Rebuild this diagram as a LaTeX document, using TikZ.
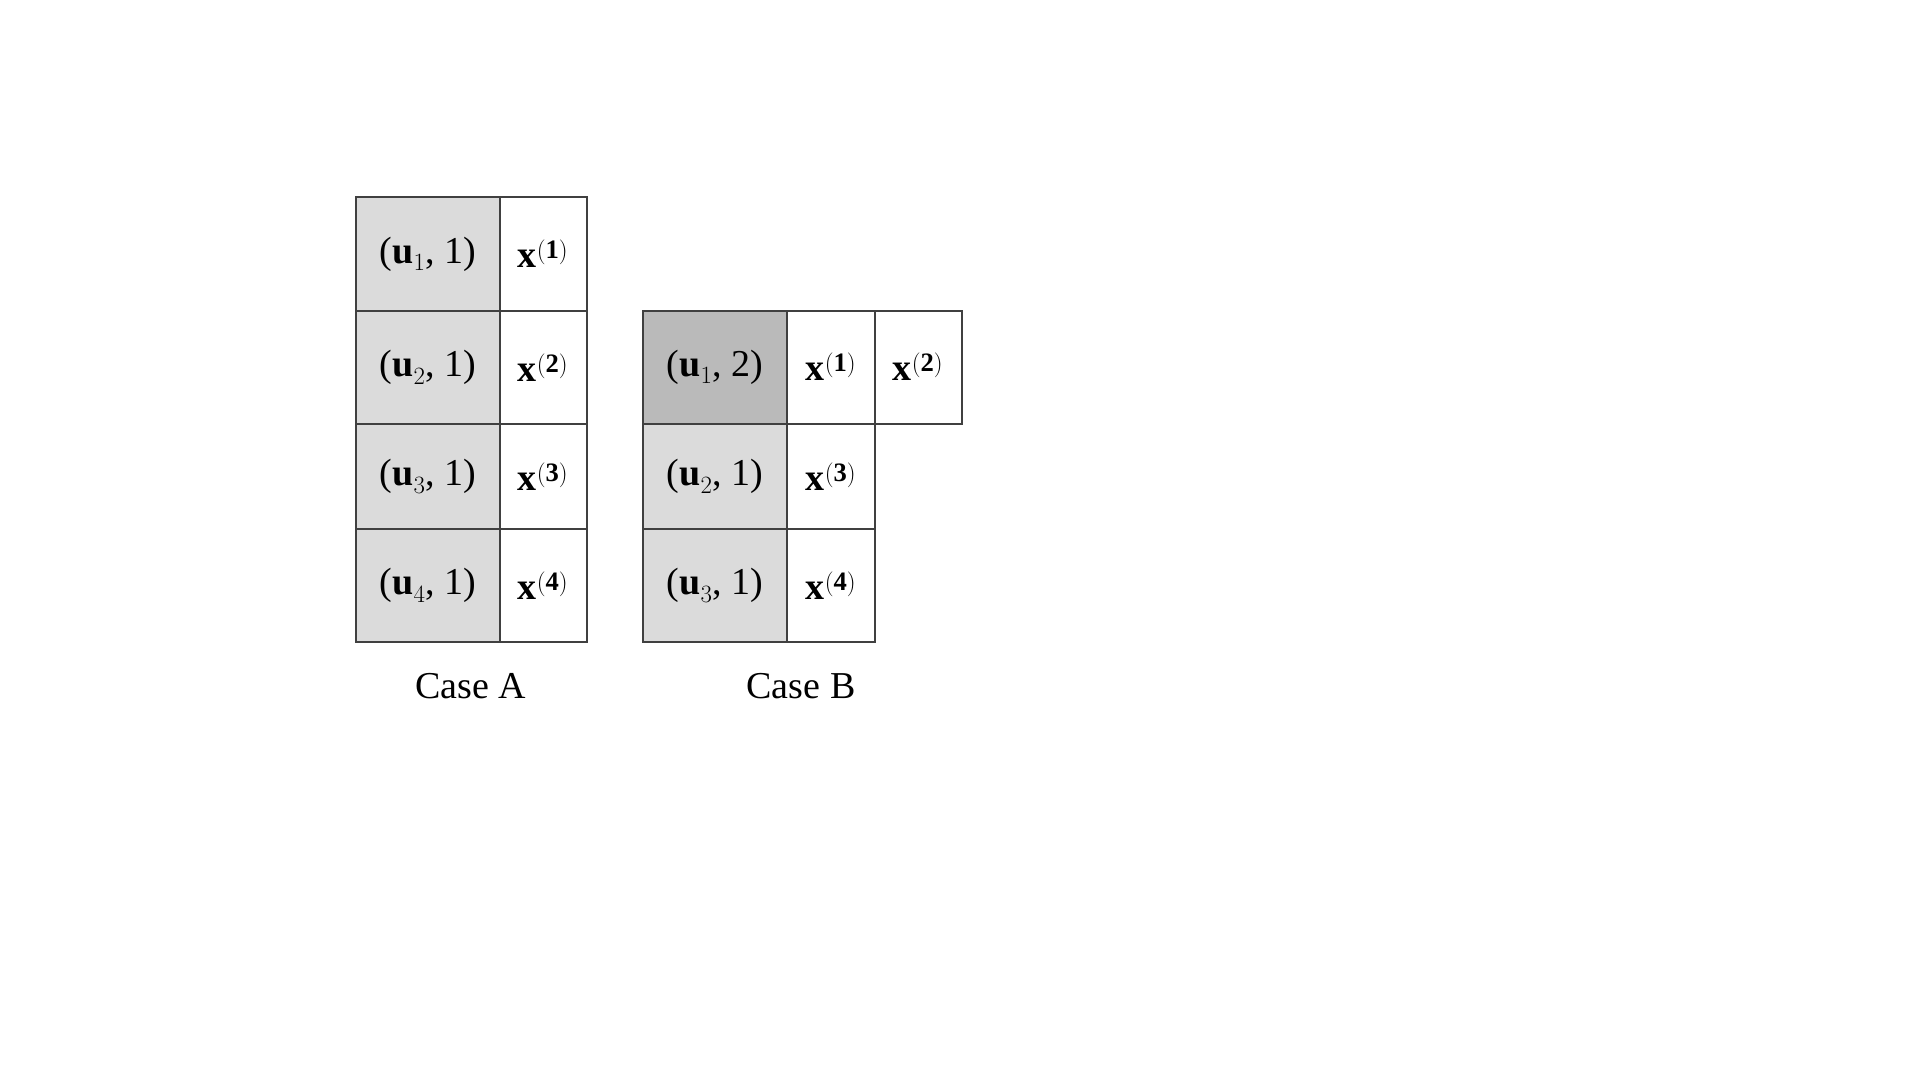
\documentclass[tikz,border=0pt]{standalone}
\usepackage{fontspec}
\setmainfont{Liberation Serif}
\begin{document}
\begin{tikzpicture}[x=1pt,y=-1pt,
  cellbox/.style={draw=black!75,line width=1.8pt},
  lt/.style={fill=black!14},
  dk/.style={fill=black!27},
  lbl/.style={font=\fontsize{38}{44}\selectfont}]
\useasboundingbox (0,0) rectangle (1928,1084);
% Case A
\foreach \i/\ya/\yb in {1/197/311,2/311/424,3/424/529,4/529/642}{
  \draw[cellbox,lt] (356,\ya) rectangle (500,\yb);
  \draw[cellbox] (500,\ya) rectangle (587,\yb);
  \node[lbl] (au\i) at (428,{(\ya+\yb)/2}) {($\mathbf{u}_{\i}$, 1)};
  \node[lbl] (ax\i) at (543,{(\ya+\yb)/2}) {$\mathbf{x}^{(\mathbf{\i})}$};
}
% Case B
\draw[cellbox,dk] (643,311) rectangle (787,424);
\draw[cellbox] (787,311) rectangle (875,424);
\draw[cellbox] (875,311) rectangle (962,424);
\node[lbl] (bu1) at (715,367) {($\mathbf{u}_{1}$, 2)};
\node[lbl] (bx1) at (831,367) {$\mathbf{x}^{(\mathbf{1})}$};
\node[lbl] (bx2) at (918,367) {$\mathbf{x}^{(\mathbf{2})}$};
\foreach \i/\ya/\yb/\k in {2/424/529/3,3/529/642/4}{
  \draw[cellbox,lt] (643,\ya) rectangle (787,\yb);
  \draw[cellbox] (787,\ya) rectangle (875,\yb);
  \node[lbl] (bu\i) at (715,{(\ya+\yb)/2}) {($\mathbf{u}_{\i}$, 1)};
  \node[lbl] (bx\k) at (831,{(\ya+\yb)/2}) {$\mathbf{x}^{(\mathbf{\k})}$};
}
\node[lbl] (ca) at (471,686) {Case A};
\node[lbl] (cb) at (801,686) {Case B};
\end{tikzpicture}
\end{document}
